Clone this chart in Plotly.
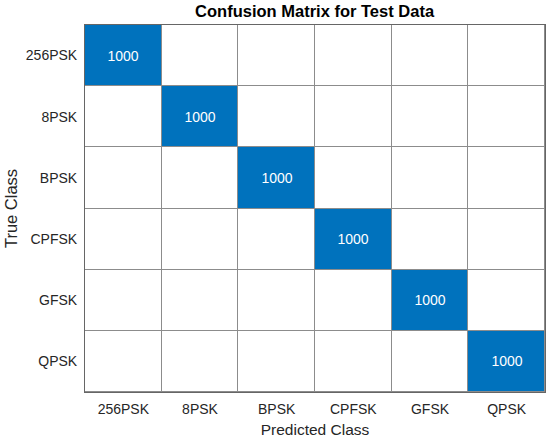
import plotly.graph_objects as go

classes = ['256PSK', '8PSK', 'BPSK', 'CPFSK', 'GFSK', 'QPSK']
counts = [
    [1000, 0, 0, 0, 0, 0],
    [0, 1000, 0, 0, 0, 0],
    [0, 0, 1000, 0, 0, 0],
    [0, 0, 0, 1000, 0, 0],
    [0, 0, 0, 0, 1000, 0],
    [0, 0, 0, 0, 0, 1000],
]

# only show numbers in non-empty cells, like matlab confusionchart
cell_text = [[str(v) if v > 0 else '' for v in row] for row in counts]

fig = go.Figure(go.Heatmap(
    z=counts, x=classes, y=classes,
    text=cell_text, texttemplate='%{text}',
    textfont=dict(color='white', size=14, family='Liberation Sans, Arial'),
    colorscale=[[0, 'white'], [1, 'rgb(0,114,189)']],
    zmin=0, zmax=1000, showscale=False,
    xgap=1, ygap=1, hoverinfo='skip'))

fig.update_layout(
    width=550, height=441,
    margin=dict(l=85, r=5, t=25, b=49, autoexpand=False),
    paper_bgcolor='white', plot_bgcolor='#8c8c8c',
    font=dict(family='Liberation Sans, Arial', size=14, color='#262626'),
    title=dict(text='<b>Confusion Matrix for Test Data</b>', x=0.572, xanchor='center',
               y=0.975, yanchor='middle', font=dict(size=16.5, color='black')),
)
fig.update_xaxes(title=dict(text='Predicted Class', standoff=8, font=dict(size=15.5)),
                 showgrid=False, zeroline=False, automargin=False,
                 showline=True, linecolor='#666666', linewidth=1, mirror=True,
                 ticks='', ticklabelstandoff=4)
fig.update_yaxes(title=dict(text='True Class', standoff=4, font=dict(size=16.5)),
                 autorange='reversed', showgrid=False, automargin=False,
                 zeroline=False, showline=True, linecolor='#666666', linewidth=1, mirror=True,
                 ticks='', ticklabelstandoff=4)

# drop the browser's default body margin so the 550x441 figure fills the window
fig.write_html("out.html", config={'displayModeBar': False},
               post_script="document.body.style.margin='0';")
